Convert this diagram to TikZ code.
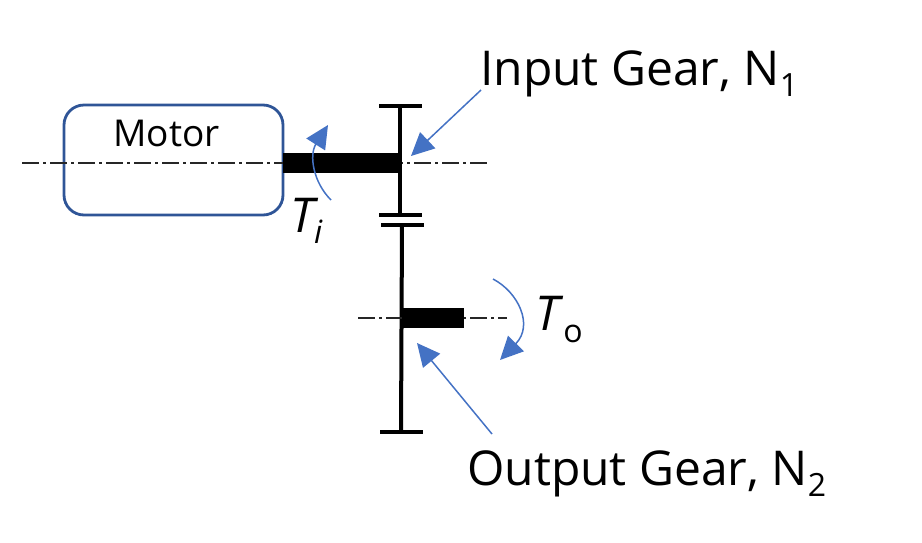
\documentclass[tikz,border=0pt]{standalone}
\usepackage{fontspec}
\setmainfont{Open Sans}
\usetikzlibrary{arrows.meta,positioning}

\definecolor{motorblue}{HTML}{2F5597}
\definecolor{arrowblue}{HTML}{4472C4}
\newcommand{\lowidx}[2]{\raisebox{#1}{\fontsize{32}{32}\selectfont #2}}

\begin{document}
\begin{tikzpicture}[x=1pt,y=-1pt,
    axis/.style={draw=black!85,line width=1.3pt,dash pattern=on 17pt off 4pt on 3pt off 4pt},
    shaft/.style={draw=none,fill=black,minimum height=20pt,inner sep=0pt},
    gearline/.style={line width=4pt},
    pointer/.style={draw=arrowblue,line width=1.5pt,-{Triangle[length=23pt,width=22pt]}},
    twist/.style={pointer},
    label/.style={inner sep=0pt,text=black}]

\useasboundingbox (0,0) rectangle (922,542);

%motor and input side
\node [draw=motorblue,line width=2.8pt,rounded corners=20pt,minimum width=219pt,minimum height=110pt,inner sep=0pt] (motor) at (173.5,160) {};
\node [label,font=\fontsize{37}{37}\selectfont,anchor=base] (motorname) at (166.5,146) {Motor};
\coordinate (axisAleft) at (22,163);
\coordinate (axisAright) at (487,163);
\draw [axis] (axisAleft) -- (axisAright);
\node [shaft,minimum width=118pt] (shaftA) at (342,163) {};

%gears
\coordinate (gearAtop) at (400,105.5);
\coordinate (gearAbot) at (400,215);
\coordinate (gearBtop) at (402,225);
\coordinate (gearBbot) at (401,432);
\draw [gearline] (gearAtop) -- (gearAbot);
\draw [gearline] (gearBtop) -- (gearBbot);
\foreach \g in {gearAtop,gearAbot,gearBtop,gearBbot}
    \draw [gearline] ([xshift=-21pt]\g) -- ([xshift=22pt]\g);

%output side
\coordinate (axisBleft) at (358,318);
\coordinate (axisBright) at (507,318);
\draw [axis] (axisBleft) -- (axisBright);
\node [shaft,minimum width=62pt] (shaftB) at (433,318) {};

%labels
\node [label,font=\fontsize{48}{48}\selectfont,anchor=base west] (inlabel) at (480,85) {Input Gear, N\lowidx{-11pt}{1}};
\node [label,font=\fontsize{48}{48}\selectfont,anchor=base west] (outlabel) at (467,485) {Output Gear, N\lowidx{-11pt}{2}};
\node [label,font=\fontsize{48}{48}\selectfont,anchor=base west] (Ti) at (290,232) {\textit{T\lowidx{-11pt}{i}}};
\node [label,font=\fontsize{48}{48}\selectfont,anchor=base west] (To) at (535,330) {\textit{T}\lowidx{-12pt}{o}};

%pointers
\coordinate (intip) at (411,156);
\coordinate (outtip) at (417,343);
\coordinate (instart) at (481,90);
\coordinate (outstart) at (492,434);
\draw [pointer] (instart) -- (intip);
\draw [pointer] (outstart) -- (outtip);

%torques
\coordinate (Tistart) at (331,200);
\coordinate (Titip) at (328,125);
\coordinate (Tostart) at (493,279);
\coordinate (Totip) at (500,360);
\draw [twist] (Tistart) .. controls (313,182) and (309,155) .. (Titip);
\draw [twist] (Tostart) .. controls (518,292) and (534,325) .. (Totip);

\end{tikzpicture}
\end{document}
